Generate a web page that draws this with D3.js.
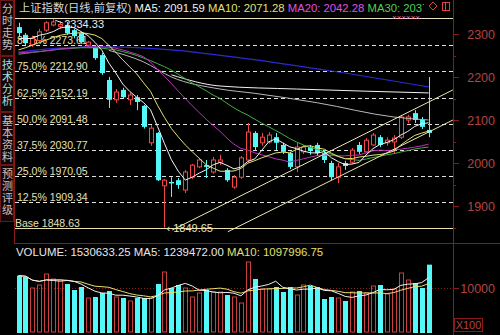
<!DOCTYPE html>
<html><head><meta charset="utf-8">
<script src="https://cdn.jsdelivr.net/npm/d3@7"></script>
<style>body{margin:0;background:#000;}svg{display:block;}</style>
</head><body>
<svg id="c" width="500" height="335"></svg>
<script>
// ---------- DATA ----------
const opens  = [2316,2298,2275,2285,2309,2321,2318,2321,2309,2302,2274,2270,2251,2193,2147,2170,2147,2153,2133,2047,2070,1947,1956,1960,1937,1967,1991,1995,1979,2002,1984,1944,1967,2007,2070,2047,2049,2060,2042,2023,1991,2026,2037,2042,2023,2000,1967,2000,2002,2042,2026,2042,2060,2047,2049,2060,2100,2116,2100,2077];
const highs  = [2326,2302,2296,2312,2330,2334.33,2330,2328,2312,2305,2284,2274,2256,2200,2172,2175,2163,2158,2135,2088,2072,1963,1967,1965,1984,1998,2012,2007,2014,2019,1988,1972,2016,2093,2074,2070,2072,2070,2047,2026,2047,2042,2042,2047,2030,2005,2000,2005,2035,2049,2058,2070,2065,2060,2065,2112,2112,2123,2107,2200];
const lows   = [2293,2274,2270,2280,2305,2318,2312,2298,2290,2277,2270,2240,2205,2128,2140,2150,2135,2123,2080,2040,1958,1849.65,1921,1940,1930,1963,1988,1965,1975,1995,1956,1940,1963,2002,2030,2040,2045,2030,2021,1986,1979,2021,2019,2016,2000,1960,1953,1984,1998,2021,2023,2040,2037,2040,2023,2056,2093,2093,2079,2060];
const closes = [2302,2279,2290,2305,2326,2328,2322,2302,2295,2281,2281,2244,2209,2147,2165,2153,2158,2142,2084,2081,1960,1960,1953,1949,1979,1995,2007,1991,2007,2007,1960,1967,2012,2072,2037,2060,2065,2047,2026,1991,2037,2037,2028,2023,2007,1967,1991,1993,2030,2026,2053,2065,2042,2053,2058,2107,2107,2100,2084,2070];
const volumes = [1279500,1256800,1000000,1068200,1318200,1204500,1181800,1090900,954500,1022700,772700,795500,886400,931800,795500,772700,704500,772700,772700,772700,1090900,1363600,1000000,1068200,1000000,795500,886400,954500,909100,909100,840900,795500,659100,1590900,1204500,977300,977300,1022700,909100,1022700,840900,1068200,1045500,1022700,750000,795500,772700,704500,909100,931800,886400,1045500,1068200,863600,977300,1340900,1181800,1113600,1000000,1530633];

// moving-average values before enough history exists
const ma5Lead  = [2290,2289,2290,2297];
const ma10Lead = [2263,2268,2274,2280,2286,2292,2297,2300,2302];
const ma20Lead = [2256,2257,2258,2259,2261,2263,2265,2266,2268,2269,2270,2270,2270,2269,2267,2263,2258,2253,2247];
const ma30Lead = [2253,2255,2257,2259,2261,2263,2265,2266,2267,2268,2268,2268,2267,2265,2263,2259,2255,2250,2244,2238,2231,2224,2216,2206,2196,2186,2177,2168,2158];

// long moving averages (read at sampled candles)
const blueIdx = [0,6,13,22,33,45,59];
const blueVal = [2258,2267,2270,2263,2242,2214,2177];
const grayIdx = [13,18,22,29,34,43,54,59];
const grayVal = [2262,2235,2200,2172,2162,2140,2107,2100];
const whiteIdx = [22,29,40,50,59];
const whiteVal = [2205,2179,2172,2167,2163];

// Fibonacci levels
const fibLabels = ["87.5%","75.0%","62.5%","50.0%","37.5%","25.0%","12.5%","Base"];
const fibValues = [2273.61,2212.90,2152.19,2091.48,2030.77,1970.05,1909.34,1848.63];
const fibTop = 2334.33;

// channel lines [index, price]
const channelUpper = [[22.1,1844],[62.5,2170]];
const channelLower = [[30.1,1840],[62.5,2100]];

const priceTicks = [1900,2000,2100,2200,2300];
const volTicks = [1000000];
const volTickLabels = ["10000"];

const tabs = ["分时走势","技术分析","基本资料","预测评级"];
const titleParts = [
  {t:"上证指数(日线,前复权)", c:"#d8d8d8"},
  {t:" MA5: 2091.59", c:"#f0f0f0"},
  {t:" MA10: 2071.28", c:"#e0e070"},
  {t:" MA20: 2042.28", c:"#e050e0"},
  {t:" MA30: 2037.16", c:"#50d050"}
];
const volTitle = [
  {t:"VOLUME: 1530633.25", c:"#e8e8e8"},
  {t:" MA5: 1239472.00", c:"#e8e8e8"},
  {t:" MA10: 1097996.75", c:"#e0e070"}
];

// ---------- CHART ----------
const svg = d3.select("#c");
const FONT = "'Liberation Sans','Noto Sans CJK SC',sans-serif";
const L = 15, R = 453;
const x = d3.scaleLinear().domain([0,59]).range([18.5,428.6]);
const y = d3.scaleLinear().domain([1900,2300]).range([206,34]);
const yv = d3.scaleLinear().domain([0,1000000]).range([332,288]);
const UP = "#f04848", DOWN = "#54f8f8";

svg.append("rect").attr("width",500).attr("height",335).attr("fill","#000");

const defs = svg.append("defs");
defs.append("clipPath").attr("id","pc").append("rect").attr("x",L).attr("y",14).attr("width",R-L).attr("height",229);
defs.append("clipPath").attr("id","tc").append("rect").attr("x",0).attr("y",0).attr("width",424).attr("height",16);

// frame lines
svg.append("line").attr("x1",R+0.5).attr("x2",R+0.5).attr("y1",0).attr("y2",335).attr("stroke","#8a1a1a");
svg.append("line").attr("x1",14.5).attr("x2",14.5).attr("y1",0).attr("y2",243).attr("stroke","#8a1a1a");
svg.append("line").attr("x1",14).attr("x2",500).attr("y1",243.5).attr("y2",243.5).attr("stroke","#8a1a1a");

// sidebar tabs
const tabY = [[0,56],[56,112],[112,165],[165,222]];
tabs.forEach((t,k)=>{
  svg.append("rect").attr("x",0.5).attr("y",tabY[k][0]+0.5).attr("width",13).attr("height",tabY[k][1]-tabY[k][0]-1)
    .attr("fill","#140606").attr("stroke","#6a1616");
  [...t].forEach((ch,j)=>{
    svg.append("text").attr("x",7.5).attr("y",tabY[k][0]+13+j*12).attr("text-anchor","middle")
      .attr("font-family",FONT).attr("font-size",11).attr("fill",k===1?"#9fe0e0":"#c8c0c0").text(ch);
  });
});

// title
const tt = svg.append("text").attr("x",19).attr("y",12).attr("font-family",FONT).attr("font-size",11.3).attr("clip-path","url(#tc)");
titleParts.forEach(p=>tt.append("tspan").attr("fill",p.c).text(p.t));
// icons
svg.append("path").attr("d","M433,2 L437,6 L433,10 L429,6 Z").attr("fill","none").attr("stroke","#e04040");
svg.append("rect").attr("x",442.5).attr("y",2.5).attr("width",7).attr("height",8).attr("fill","none").attr("stroke","#e04040");
svg.append("line").attr("x1",445.5).attr("x2",445.5).attr("y1",2.5).attr("y2",10.5).attr("stroke","#e04040");

// price axis
priceTicks.forEach(v=>{
  svg.append("text").attr("x",495).attr("y",y(v)+4.5).attr("text-anchor","end").attr("font-family",FONT)
    .attr("font-size",12.5).attr("fill","#b04444").text(v);
  svg.append("line").attr("x1",R).attr("x2",R+6).attr("y1",Math.round(y(v))+0.5).attr("y2",Math.round(y(v))+0.5).attr("stroke","#8a1a1a");
});
d3.range(1850,2350,50).filter(v=>v%100!==0).forEach(v=>{
  svg.append("line").attr("x1",R).attr("x2",R+3).attr("y1",Math.round(y(v))+0.5).attr("y2",Math.round(y(v))+0.5).attr("stroke","#8a1a1a");
});

const plot = svg.append("g").attr("clip-path","url(#pc)");

// fib lines
fibValues.forEach((v,k)=>{
  const yy = Math.round(y(v))+0.5;
  if (fibLabels[k]==="Base") {
    plot.append("line").attr("x1",L).attr("x2",R).attr("y1",yy).attr("y2",yy).attr("stroke","#e8e0b0");
  } else {
    plot.append("line").attr("x1",L).attr("x2",R).attr("y1",yy).attr("y2",yy).attr("stroke","#e0e0e0").attr("stroke-dasharray","4,3");
  }
});
plot.append("line").attr("x1",L).attr("x2",R).attr("y1",Math.round(y(fibTop))-0.5).attr("y2",Math.round(y(fibTop))-0.5).attr("stroke","#e8e0c0");

// fib labels (under the candles)
fibValues.forEach((v,k)=>{
  plot.append("text").attr("x",k===7?15:17).attr("y",Math.round(y(v))-1.5).attr("font-family",FONT).attr("font-size",10.5)
    .attr("fill","#e4e0b8").text(fibLabels[k]+" "+v.toFixed(2));
});

// candles
const bw = 5;
closes.forEach((c,i)=>{
  const o = opens[i], up = c>=o, cx = Math.round(x(i))+0.5;
  const top = y(Math.max(o,c)), bot = y(Math.min(o,c));
  const col = up?UP:DOWN;
  if (up) {
    plot.append("line").attr("x1",cx).attr("x2",cx).attr("y1",y(highs[i])).attr("y2",top).attr("stroke",col);
    plot.append("line").attr("x1",cx).attr("x2",cx).attr("y1",bot).attr("y2",y(lows[i])).attr("stroke",col);
    plot.append("rect").attr("x",cx-2).attr("y",top).attr("width",bw-1).attr("height",Math.max(bot-top,1))
      .attr("fill","#000").attr("stroke",col);
  } else {
    plot.append("line").attr("x1",cx).attr("x2",cx).attr("y1",y(highs[i])).attr("y2",y(lows[i])).attr("stroke",col);
    plot.append("rect").attr("x",cx-2.5).attr("y",top).attr("width",bw).attr("height",Math.max(bot-top,1.5)).attr("fill",col);
  }
});

// moving averages
function ma(arr,n,lead){return arr.map((_,i)=> i>=n-1 ? d3.mean(arr.slice(i-n+1,i+1)) : lead[i]);}
const line = d3.line().x((d,i)=>x(i)).y(d=>y(d));
const sline = d3.line().x(d=>x(d[0])).y(d=>y(d[1])).curve(d3.curveMonotoneX);
plot.append("path").attr("d",sline(blueIdx.map((d,k)=>[d,blueVal[k]]))).attr("fill","none").attr("stroke","#2a2ad0").attr("stroke-width",1.2);
plot.append("path").attr("d",sline(grayIdx.map((d,k)=>[d,grayVal[k]]))).attr("fill","none").attr("stroke","#b8b8b8");
plot.append("path").attr("d",sline(whiteIdx.map((d,k)=>[d,whiteVal[k]]))).attr("fill","none").attr("stroke","#f0f0f0");
plot.append("path").attr("d",line(ma(closes,30,ma30Lead))).attr("fill","none").attr("stroke","#40b040");
plot.append("path").attr("d",line(ma(closes,20,ma20Lead))).attr("fill","none").attr("stroke","#c030c0");
plot.append("path").attr("d",line(ma(closes,10,ma10Lead))).attr("fill","none").attr("stroke","#e8e070");
plot.append("path").attr("d",line(ma(closes,5,ma5Lead))).attr("fill","none").attr("stroke","#f4f4f4");

// channel lines
[channelUpper,channelLower].forEach(c=>{
  plot.append("line").attr("x1",x(c[0][0])).attr("y1",y(c[0][1])).attr("x2",x(c[1][0])).attr("y2",y(c[1][1]))
    .attr("stroke","#ece4b0");
});

// high / low markers
const hi = d3.maxIndex(highs), lo = d3.minIndex(lows);
svg.append("line").attr("x1",x(hi)+2).attr("y1",y(highs[hi])+1).attr("x2",x(hi)+10).attr("y2",y(highs[hi])+4).attr("stroke","#e8e8e8");
svg.append("text").attr("x",x(hi)+11).attr("y",y(highs[hi])+9).attr("font-family",FONT).attr("font-size",11).attr("fill","#e8e8e8").text(highs[hi].toFixed(2));
svg.append("text").attr("x",x(lo)+2).attr("y",y(lows[lo])+4).attr("font-family",FONT).attr("font-size",11).attr("fill","#e8e4c0").text("‹ "+lows[lo].toFixed(2));

// pink markers
svg.append("text").attr("x",392).attr("y",20).attr("font-family",FONT).attr("font-size",8).attr("fill","#ff80c0").text("××××××");

// ---------- VOLUME ----------
const vt = svg.append("text").attr("x",16).attr("y",256).attr("font-family",FONT).attr("font-size",11.4);
volTitle.forEach(p=>vt.append("tspan").attr("fill",p.c).text(p.t));
volTicks.forEach((v,k)=>{
  const yy = Math.round(yv(v))+0.5;
  svg.append("line").attr("x1",L).attr("x2",R).attr("y1",yy).attr("y2",yy).attr("stroke","#8a2020").attr("stroke-dasharray","1,2");
  svg.append("line").attr("x1",R).attr("x2",R+6).attr("y1",yy).attr("y2",yy).attr("stroke","#8a1a1a");
  svg.append("text").attr("x",495).attr("y",yy+4.5).attr("text-anchor","end").attr("font-family",FONT).attr("font-size",12.5).attr("fill","#b04444").text(volTickLabels[k]);
});
svg.append("rect").attr("x",454.5).attr("y",318.5).attr("width",28).attr("height",13).attr("fill","none").attr("stroke","#8a1a1a");
svg.append("text").attr("x",468.5).attr("y",329).attr("text-anchor","middle").attr("font-family",FONT).attr("font-size",11).attr("fill","#b04444").text("X100");

volumes.forEach((v,i)=>{
  const up = closes[i]>=opens[i], cx = Math.round(x(i));
  if (up) svg.append("rect").attr("x",cx-2+0.5).attr("y",yv(v)).attr("width",4).attr("height",yv(0)-yv(v)).attr("fill","none").attr("stroke","#c84040");
  else svg.append("rect").attr("x",cx-2).attr("y",yv(v)).attr("width",5).attr("height",yv(0)-yv(v)+1).attr("fill",DOWN);
});
function vma(arr,n){return arr.map((_,i)=>d3.mean(arr.slice(Math.max(0,i-n+1),i+1)));}
const vline = d3.line().x((d,i)=>x(i)).y(d=>yv(d));
svg.append("path").attr("d",vline(vma(volumes,10))).attr("fill","none").attr("stroke","#e8e070");
svg.append("path").attr("d",vline(vma(volumes,5))).attr("fill","none").attr("stroke","#f0f0f0");
</script>
</body></html>
